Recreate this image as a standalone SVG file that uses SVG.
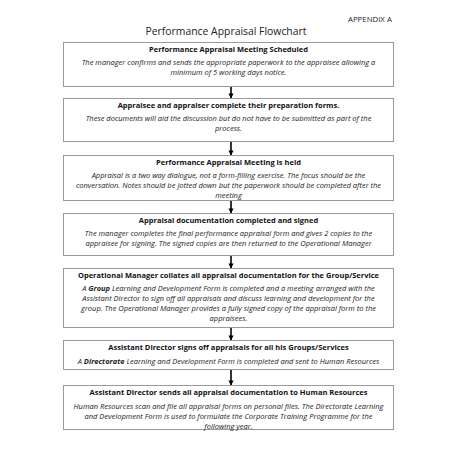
<svg xmlns="http://www.w3.org/2000/svg" width="452" height="452" viewBox="0 0 452 452">
<defs>
<marker id="ah" viewBox="0 0 10 10" refX="9" refY="5" markerWidth="3.2" markerHeight="3.2" orient="auto" markerUnits="strokeWidth">
<path d="M0,0 L10,5 L0,10 z" fill="#000"/>
</marker>
</defs>
<style>
.box{fill:#fff;stroke:#9a9a9a;stroke-width:1}
.hd{font-family:"Open Sans","Liberation Sans",sans-serif;font-weight:bold;font-size:7.5px;fill:#111;text-anchor:middle}
.bd{font-family:"Open Sans","Liberation Sans",sans-serif;font-style:italic;font-size:7.5px;fill:#222;text-anchor:middle}
.ttl{font-family:"Open Sans","Liberation Sans",sans-serif;font-size:10.4px;fill:#222;text-anchor:middle}
.app{font-family:"Open Sans","Liberation Sans",sans-serif;font-size:7.8px;fill:#222}
.arr{stroke:#000;stroke-width:1.6;fill:none;marker-end:url(#ah)}
</style>
<rect width="452" height="452" fill="#fff"/>
<text class="app" x="348" y="22">APPENDIX A</text>
<text class="ttl" x="226" y="35">Performance Appraisal Flowchart</text>
<g id="connectors">
<line class="arr" x1="231" y1="87" x2="231" y2="98"/>
<line class="arr" x1="231" y1="142" x2="231" y2="155"/>
<line class="arr" x1="231" y1="201" x2="231" y2="213"/>
<line class="arr" x1="231" y1="256" x2="231" y2="268"/>
<line class="arr" x1="231" y1="328" x2="231" y2="340"/>
<line class="arr" x1="231" y1="370" x2="231" y2="385"/>
</g>
<g id="n1">
<rect class="box" x="63.5" y="42.5" width="330" height="44"/>
<text class="hd" x="228.5" y="51.5">Performance Appraisal Meeting Scheduled</text>
<text class="bd" x="228.5" y="65">The manager confirms and sends the appropriate paperwork to the appraisee allowing a</text>
<text class="bd" x="228.5" y="75">minimum of 5 working days notice.</text>
</g>
<g id="n2">
<rect class="box" x="63.5" y="98.5" width="330" height="43"/>
<text class="hd" x="228.5" y="107.5">Appraisee and appraiser complete their preparation forms.</text>
<text class="bd" x="228.5" y="121">These documents will aid the discussion but do not have to be submitted as part of the</text>
<text class="bd" x="228.5" y="131">process.</text>
</g>
<g id="n3">
<rect class="box" x="63.5" y="155.5" width="330" height="45"/>
<text class="hd" x="228.5" y="164.5">Performance Appraisal Meeting is held</text>
<text class="bd" x="228.5" y="178">Appraisal is a two way dialogue, not a form-filling exercise.  The focus should be the</text>
<text class="bd" x="228.5" y="188">conversation. Notes should be jotted down but the paperwork should be completed after the</text>
<text class="bd" x="228.5" y="198">meeting</text>
</g>
<g id="n4">
<rect class="box" x="63.5" y="213.5" width="330" height="42"/>
<text class="hd" x="228.5" y="222.5">Appraisal documentation completed and signed</text>
<text class="bd" x="228.5" y="236">The manager completes the final performance appraisal form and gives 2 copies to the</text>
<text class="bd" x="228.5" y="246">appraisee for signing. The signed copies are then returned to the Operational Manager</text>
</g>
<g id="n5">
<rect class="box" x="63.5" y="268.5" width="330" height="59"/>
<text class="hd" x="228.5" y="277.5">Operational Manager collates all appraisal documentation for the Group/Service</text>
<text class="bd" x="228.5" y="291">A <tspan font-weight="bold">Group</tspan> Learning and Development Form is completed and a meeting arranged with the</text>
<text class="bd" x="228.5" y="301">Assistant Director to sign off all appraisals and discuss learning and development for the</text>
<text class="bd" x="228.5" y="311">group.  The Operational Manager provides a fully signed copy of the appraisal form to the</text>
<text class="bd" x="228.5" y="321">appraisees.</text>
</g>
<g id="n6">
<rect class="box" x="63.5" y="340.5" width="330" height="29"/>
<text class="hd" x="228.5" y="350">Assistant Director signs off appraisals for all his Groups/Services</text>
<text class="bd" x="228.5" y="363.5">A <tspan font-weight="bold">Directorate</tspan> Learning and Development Form is completed and sent to Human Resources</text>
</g>
<g id="n7">
<rect class="box" x="63.5" y="385.5" width="330" height="44"/>
<text class="hd" x="228.5" y="395">Assistant Director sends all appraisal documentation to Human Resources</text>
<text class="bd" x="228.5" y="409">Human Resources scan and file all appraisal forms on personal files.  The Directorate Learning</text>
<text class="bd" x="228.5" y="419">and Development Form is used to formulate the Corporate Training Programme for the</text>
<text class="bd" x="228.5" y="429">following year.</text>
</g>
</svg>
